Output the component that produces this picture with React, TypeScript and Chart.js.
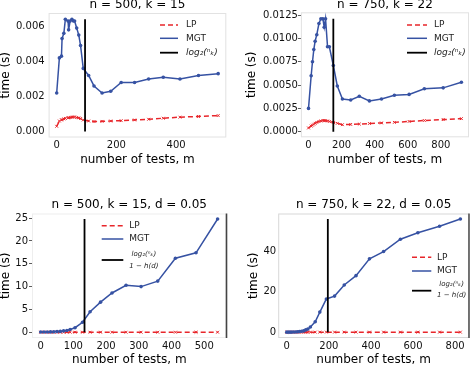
import React, { useEffect, useRef } from "react";
import { Chart, registerables } from "chart.js";

Chart.register(...registerables);

const FONT = "'DejaVu Sans', 'Liberation Sans', sans-serif";
const BLUE = "#3652a3";
const RED = "#e8262b";

// ---------- Panel A: n = 500, k = 15 ----------
const mA = [0, 9, 16, 18, 24, 29, 38, 40, 45, 51, 56, 60, 67, 74, 80, 89, 107, 125, 152, 181, 216, 261, 308, 357, 413, 475, 541];
const mgtA = [0.0022, 0.0042, 0.0043, 0.0053, 0.0056, 0.0064, 0.0063, 0.0058, 0.0063, 0.0064, 0.0063, 0.0063, 0.0059, 0.0055, 0.0049, 0.0036, 0.0032, 0.0026, 0.0022, 0.0023, 0.0028, 0.0028, 0.0030, 0.0031, 0.0030, 0.0032, 0.0033];
const lpA = [0.0003, 0.0006, 0.00066, 0.00068, 0.00072, 0.00075, 0.00078, 0.00079, 0.0008, 0.00082, 0.00083, 0.00083, 0.0008, 0.00078, 0.00074, 0.00066, 0.0006, 0.00057, 0.00058, 0.0006, 0.00062, 0.00066, 0.0007, 0.00076, 0.00082, 0.00086, 0.00091];
const vA = 95;
const xTicksA = [0, 200, 400];
const yTicksA = [0, 0.002, 0.004, 0.006];

// ---------- Panel B: n = 750, k = 22 ----------
const mB = [0, 16, 24, 32, 40, 50, 63, 75, 87, 95, 103, 115, 126, 150, 174, 205, 255, 307, 368, 441, 519, 608, 700, 814, 924];
const mgtB = [0.0025, 0.0060, 0.0075, 0.0088, 0.0097, 0.0104, 0.0116, 0.0121, 0.0121, 0.0112, 0.0121, 0.0091, 0.0091, 0.0071, 0.0049, 0.0035, 0.0034, 0.0038, 0.0033, 0.0035, 0.0039, 0.0040, 0.0046, 0.0047, 0.0053];
const lpB = [0.0004, 0.0006, 0.0007, 0.0008, 0.0009, 0.001, 0.0011, 0.00115, 0.0012, 0.0012, 0.00118, 0.00115, 0.0011, 0.001, 0.0009, 0.00075, 0.00078, 0.00082, 0.00088, 0.00094, 0.001, 0.0011, 0.0012, 0.0013, 0.0014];
const vB = 150;
const xTicksB = [0, 200, 400, 600, 800];
const yTicksB = [0, 0.0025, 0.005, 0.0075, 0.01, 0.0125];

// ---------- Panel C: n = 500, k = 15, d = 0.05 ----------
const mC = [0, 10, 20, 30, 40, 50, 60, 70, 80, 90, 105, 128, 151, 183, 218, 261, 307, 358, 412, 475, 541];
const mgtC = [0.05, 0.05, 0.06, 0.08, 0.1, 0.15, 0.2, 0.3, 0.4, 0.6, 1.0, 2.2, 4.5, 6.6, 8.6, 10.3, 10.0, 11.2, 16.2, 17.4, 24.8];
const lpC = [0.02, 0.02, 0.02, 0.02, 0.02, 0.02, 0.02, 0.02, 0.02, 0.02, 0.02, 0.02, 0.02, 0.02, 0.02, 0.02, 0.02, 0.02, 0.02, 0.02, 0.02];
const vC = 134;
const xTicksC = [0, 100, 200, 300, 400, 500];
const yTicksC = [0, 5, 10, 15, 20, 25];

// ---------- Panel D: n = 750, k = 22, d = 0.05 ----------
const mD = [0, 10, 20, 30, 40, 50, 60, 70, 80, 90, 100, 112, 135, 157, 188, 227, 273, 329, 393, 460, 540, 623, 726, 825];
const mgtD = [0.1, 0.1, 0.1, 0.15, 0.2, 0.25, 0.35, 0.5, 0.7, 1.2, 1.6, 2.6, 5.2, 10.0, 16.5, 17.9, 23.4, 28.0, 36.3, 39.9, 46.0, 49.2, 52.4, 56.0];
const lpD = [0.1, 0.1, 0.1, 0.1, 0.1, 0.1, 0.1, 0.1, 0.1, 0.1, 0.1, 0.1, 0.1, 0.1, 0.1, 0.1, 0.1, 0.1, 0.1, 0.1, 0.1, 0.1, 0.1, 0.1];
const vD = 195;
const xTicksD = [0, 200, 400, 600, 800];
const yTicksD = [0, 20, 40];

const X_LABEL = "number of tests, m";
const Y_LABEL = "time (s)";
const LEGEND_TOP = ["LP", "MGT", "log\u2082(\u207F\u2096)"];
const LEGEND_BOTTOM = ["LP", "MGT", "log\u2082(\u207F\u2096)\n1 \u2212 h(d)"];

const W = 237;
const H = 183;

const framePlugin = {
  id: "frame",
  beforeDatasetsDraw(chart: any, _a: any, o: any) {
    const { left, right, top, bottom } = chart.chartArea;
    const ctx = chart.ctx;
    ctx.save();
    ctx.lineWidth = 1;
    ctx.strokeStyle = o.color;
    ctx.strokeRect(left + 0.5, top + 0.5, right - left - 1, bottom - top - 1);
    if (o.rightColor) {
      ctx.strokeStyle = o.rightColor;
      ctx.lineWidth = 1.6;
      ctx.beginPath();
      ctx.moveTo(right, top);
      ctx.lineTo(right, bottom);
      ctx.stroke();
    }
    ctx.restore();
  },
};

const legendPlugin = {
  id: "mplLegend",
  afterDraw(chart: any, _a: any, o: any) {
    const ctx = chart.ctx;
    chart.data.datasets.forEach((ds: any, i: number) => {
      const y = o.rows[i];
      ctx.save();
      ctx.beginPath();
      ctx.strokeStyle = ds.borderColor;
      ctx.lineWidth = ds.borderWidth;
      ctx.setLineDash(ds.borderDash || []);
      ctx.moveTo(o.x0, y);
      ctx.lineTo(o.x1, y);
      ctx.stroke();
      ctx.setLineDash([]);
      ctx.fillStyle = "#222";
      ctx.textBaseline = "middle";
      ctx.textAlign = "left";
      const lines = String(ds.label).split("\n");
      if (lines.length === 1) {
        ctx.font = `${lines[0].startsWith("log") ? "italic " : ""}9px ${FONT}`;
        ctx.fillText(lines[0], o.tx, y);
      } else {
        ctx.font = `italic 7px ${FONT}`;
        const widths = lines.map((l: string) => ctx.measureText(l).width);
        const w = Math.max(...widths);
        lines.forEach((l: string, j: number) => {
          ctx.fillText(l, o.tx + (w - widths[j]) / 2, o.fracRows[j]);
        });
      }
      ctx.restore();
    });
  },
};

const panels = [
  {
    left: 0, top: 0, title: "n = 500, k = 15",
    m: mA, mgt: mgtA, lp: lpA, v: vA, legend: LEGEND_TOP,
    xMin: -27.1, xMax: 568.2, yMin: -0.00034, yMax: 0.00676,
    xTicks: xTicksA, yTicks: yTicksA, yDec: 3,
    area: { l: 48.6, t: 13, r: 226.3, b: 137.5 },
    titleTop: -1, xTitleBottom: 17, yTitleTop: 0, yTickMarks: false, yPad: 4,
    frame: { color: "#e2e2e2" },
    leg: { x0: 160, x1: 178, tx: 186, rows: [25, 38.3, 52.7], fracRows: [] },
  },
  {
    left: 237, top: 0, title: "n = 750, k = 22",
    m: mB, mgt: mgtB, lp: lpB, v: vB, legend: LEGEND_TOP,
    xMin: -46, xMax: 970, yMin: -0.0006, yMax: 0.0128,
    xTicks: xTicksB, yTicks: yTicksB, yDec: 4,
    area: { l: 63.9, t: 12.3, r: 236.1, b: 137.3 },
    titleTop: -1, xTitleBottom: 17, yTitleTop: 9, yTickMarks: true, yPad: 0,
    frame: { color: "#e2e2e2" },
    leg: { x0: 170, x1: 190, tx: 197, rows: [25, 38.3, 52.7], fracRows: [] },
  },
  {
    left: 0, top: 183, title: "n = 500, k = 15, d = 0.05",
    m: mC, mgt: mgtC, lp: lpC, v: vC, legend: LEGEND_BOTTOM,
    xMin: -26.6, xMax: 568.2, yMin: -1.25, yMax: 26.0,
    xTicks: xTicksC, yTicks: yTicksC, yDec: 0,
    area: { l: 32, t: 30.5, r: 226.5, b: 155 },
    titleTop: 16, xTitleBottom: 0.3, yTitleTop: 0, yTickMarks: true, yPad: 1,
    frame: { color: "#eeeeee", rightColor: "#444" },
    leg: { x0: 101.7, x1: 123.3, tx: 129.3, rows: [42.7, 56, 77], fracRows: [71, 83.5] },
  },
  {
    left: 237, top: 183, title: "n = 750, k = 22, d = 0.05",
    m: mD, mgt: mgtD, lp: lpD, v: vD, legend: LEGEND_BOTTOM,
    xMin: -40.9, xMax: 866, yMin: -2.8, yMax: 58.7,
    xTicks: xTicksD, yTicks: yTicksD, yDec: 0,
    area: { l: 41.2, t: 30.5, r: 236.2, b: 155 },
    titleTop: 16, xTitleBottom: 0.3, yTitleTop: 10.7, yTickMarks: false, yPad: 2,
    frame: { color: "#d8d8d8", rightColor: "#555" },
    leg: { x0: 175, x1: 194.3, tx: 200, rows: [74.3, 88, 107.7], fracRows: [101, 112] },
  },
];

function buildConfig(p: any): any {
  const pts = (xs: number[], ys: number[]) => xs.map((x, i) => ({ x, y: ys[i] }));
  return {
    type: "line",
    data: {
      datasets: [
        {
          label: p.legend[0], data: pts(p.m, p.lp),
          borderColor: RED, backgroundColor: RED, borderWidth: 1.5, borderDash: [5, 3],
          pointStyle: "crossRot", pointRadius: 2, pointBorderWidth: 1, pointBorderColor: RED,
          tension: 0, order: 2,
        },
        {
          label: p.legend[1], data: pts(p.m, p.mgt),
          borderColor: BLUE, backgroundColor: BLUE, borderWidth: 1.5,
          pointStyle: "circle", pointRadius: 1.8, pointBorderWidth: 0, pointBackgroundColor: BLUE,
          tension: 0, order: 1,
        },
        {
          label: p.legend[2], data: [{ x: p.v, y: 0 }, { x: p.v, y: Math.max(...p.mgt) }],
          borderColor: "#000", borderWidth: 1.8, pointRadius: 0, tension: 0, order: 0,
        },
      ],
    },
    plugins: [framePlugin, legendPlugin],
    options: {
      responsive: false,
      animation: false,
      events: [],
      layout: { padding: { left: 0, right: W - p.area.r, top: 0, bottom: 0 } },
      plugins: {
        legend: { display: false },
        tooltip: { enabled: false },
        title: {
          display: true, text: p.title, fullSize: false, color: "#000",
          font: { family: FONT, size: 12, weight: "normal", lineHeight: 1 },
          padding: { top: p.titleTop, bottom: p.area.t - 12 - p.titleTop },
        },
        frame: p.frame,
        mplLegend: p.leg,
      },
      scales: {
        x: {
          type: "linear", min: p.xMin, max: p.xMax,
          afterBuildTicks: (s: any) => { s.ticks = p.xTicks.map((value: number) => ({ value })); },
          afterFit: (s: any) => { s.height = H - p.area.b; },
          ticks: { font: { family: FONT, size: 10 }, color: "#111", padding: 2, maxRotation: 0, autoSkip: false },
          grid: { display: false, drawTicks: false },
          border: { display: false },
          title: {
            display: true, text: X_LABEL, color: "#000",
            font: { family: FONT, size: 12, lineHeight: 1 },
            padding: { top: 0, bottom: p.xTitleBottom },
          },
        },
        y: {
          type: "linear", min: p.yMin, max: p.yMax,
          afterBuildTicks: (s: any) => { s.ticks = p.yTicks.map((value: number) => ({ value })); },
          afterFit: (s: any) => { s.width = p.area.l; },
          ticks: {
            font: { family: FONT, size: 10 }, color: "#111", padding: p.yPad, autoSkip: false,
            callback: (v: any) => Number(v).toFixed(p.yDec),
          },
          grid: p.yTickMarks
            ? { display: true, drawOnChartArea: false, drawTicks: true, tickLength: 3, color: "#333", lineWidth: 0.8 }
            : { display: false, drawTicks: false },
          border: { display: false },
          title: {
            display: true, text: Y_LABEL, color: "#000",
            font: { family: FONT, size: 12, lineHeight: 1 },
            padding: { top: p.yTitleTop, bottom: 0 },
          },
        },
      },
    },
  };
}

function Panel({ p }: { p: any }) {
  const ref = useRef<HTMLCanvasElement>(null);
  useEffect(() => {
    const chart = new Chart(ref.current as HTMLCanvasElement, buildConfig(p));
    return () => chart.destroy();
  }, [p]);
  return (
    <canvas
      ref={ref}
      width={W}
      height={H}
      style={{ position: "absolute", left: p.left, top: p.top, width: W, height: H, display: "block" }}
    />
  );
}

export default function App() {
  return (
    <div style={{ position: "absolute", left: 0, top: 0, width: 474, height: 366, background: "#fff", overflow: "hidden" }}>
      {panels.map((p, i) => (
        <Panel key={i} p={p} />
      ))}
    </div>
  );
}
